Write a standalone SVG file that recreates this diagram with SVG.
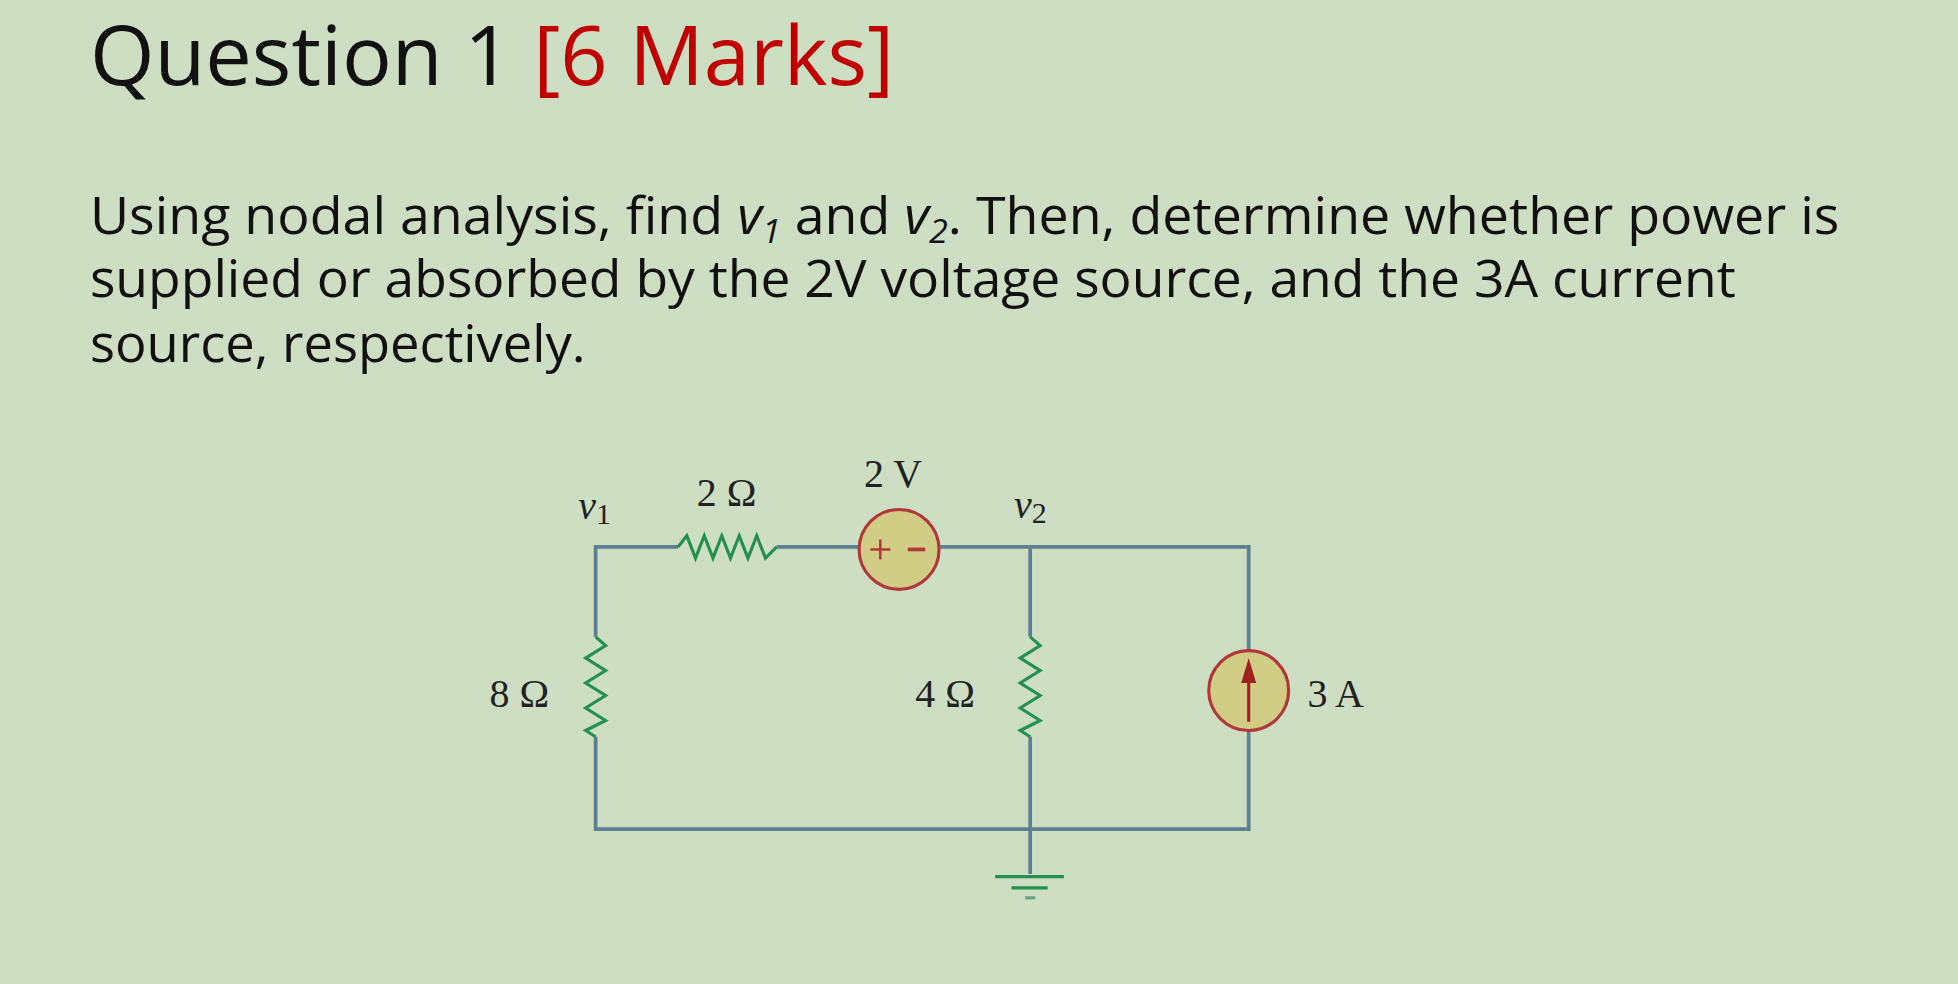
<svg xmlns="http://www.w3.org/2000/svg" width="1958" height="984" viewBox="0 0 1958 984">
<style>
.t{font-family:"Open Sans","Liberation Sans",sans-serif;fill:#111}
.c{font-family:"Liberation Serif",serif;font-size:32px;fill:#222}
.w{stroke:#5d8090;stroke-width:3;fill:none}
.r{stroke:#239050;stroke-width:2.5;fill:none}
.s{fill:#d2cd85;stroke:#b0383a;stroke-width:2.5}
</style>
<rect width="1958" height="984" fill="#cddec3"/>
<g transform="scale(1.2487)">
<text class="t" x="72" y="68" font-size="66" textLength="644" lengthAdjust="spacingAndGlyphs">Question 1 <tspan fill="#c00000">[6 Marks]</tspan></text>
<g id="question">
<text class="t" x="72" y="187" font-size="41" textLength="1401" lengthAdjust="spacingAndGlyphs">Using nodal analysis, find <tspan font-style="italic">v</tspan><tspan font-style="italic" font-size="26" dy="8">1</tspan><tspan dy="-8"> and </tspan><tspan font-style="italic">v</tspan><tspan font-style="italic" font-size="26" dy="8">2</tspan><tspan dy="-8">. Then, determine whether power is</tspan></text>
<text class="t" x="72" y="238" font-size="41" textLength="1318" lengthAdjust="spacingAndGlyphs">supplied or absorbed by the 2V voltage source, and the 3A current</text>
<text class="t" x="72" y="290" font-size="41" textLength="397" lengthAdjust="spacingAndGlyphs">source, respectively.</text>
</g>
<g id="connectors">
<path class="w" d="M477,510 V438 H543 M622,438 H688 M753,438 H1000 V521 M1000,585 V664 H477 V590 M825,438 V510 M825,590 V700"/>
</g>
<g id="R2"><path class="r" d="M543,438 L550,429 L557,447 L564,429 L571,447 L578,429 L585,447 L592,429 L599,447 L606,429 L613,447 L622,438"/><text class="c" x="558" y="405">2 Ω</text></g>
<g id="V2"><circle class="s" cx="720" cy="440" r="32"/><path d="M697,440 h16 M705,432 v16" stroke="#b0383a" stroke-width="2"/><path d="M727,440 h14" stroke="#b0383a" stroke-width="3"/><text class="c" x="692" y="390">2 V</text></g>
<g id="R8"><path class="r" d="M477,510 L485,517 L469,527 L485,537 L469,547 L485,557 L469,567 L485,577 L469,585 L477,590"/><text class="c" x="392" y="566">8 Ω</text></g>
<g id="R4"><path class="r" d="M825,510 L833,517 L817,527 L833,537 L817,547 L833,557 L817,567 L833,577 L817,585 L825,590"/><text class="c" x="733" y="566">4 Ω</text></g>
<g id="I3"><circle class="s" cx="1000" cy="553" r="32"/><path d="M1000,578 V540" stroke="#a02020" stroke-width="2.5"/><path d="M1000,527 L994,547 H1006 Z" fill="#a02020"/><text class="c" x="1047" y="566">3 A</text></g>
<g id="labels"><text class="c" x="463" y="416" font-style="italic">v<tspan font-style="normal" font-size="24" dy="4">1</tspan></text><text class="c" x="812" y="415" font-style="italic">v<tspan font-style="normal" font-size="24" dy="4">2</tspan></text></g>
<g id="ground"><path d="M797,702 H852 M810,711 H839" stroke="#239050" stroke-width="2.5"/><path d="M821,719 H829" stroke="#6aa080" stroke-width="2.5"/></g>
</g>
</svg>
